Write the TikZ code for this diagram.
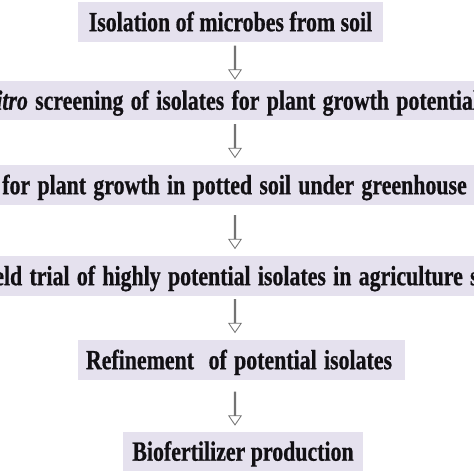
\documentclass[tikz,border=0pt]{standalone}
\usepackage{fontspec}
\setmainfont{Liberation Serif}[BoldFeatures={FakeBold=0.8}, BoldItalicFeatures={FakeBold=0.8}]
\usepackage{graphicx}
\usetikzlibrary{shapes.arrows, positioning, calc}
\definecolor{boxfill}{RGB}{229,225,238}
\definecolor{arrowgray}{RGB}{115,115,115}
\definecolor{inktext}{RGB}{18,16,20}
\newcommand{\stretchtext}[1]{\scalebox{1}[1.27]{#1}}

\begin{document}
\begin{tikzpicture}[x=0.025cm, y=-0.025cm,
    stage/.style={rectangle, fill=boxfill, inner sep=0pt, text height=0.46cm, text depth=0cm, minimum height=0.975cm, text=inktext, font=\fontsize{15.55}{19}\selectfont\bfseries},
    widestage/.style={stage, anchor=west, text width=12.5cm, align=left},
    hollowarrow/.style={single arrow, draw=arrowgray, fill=white, line width=0.6pt, minimum height=0.825cm, minimum width=0.31cm, single arrow head extend=0.09cm, single arrow tip angle=68, shape border rotate=270, inner sep=0pt, anchor=tip}
]
    \useasboundingbox (0,0) rectangle (474,474);
    \clip (0,0) rectangle (474,474);
    \coordinate (col) at (235,0);

    % stages
    \node[stage, minimum width=7.625cm] (isolation) at (230.5,22) {\stretchtext{Isolation of microbes from soil}};
    \node[widestage, inner xsep=0.2cm] (vitro) at (-12,100.5) {\stretchtext{\textit{itro} screening of isolates for plant growth potential}};
    \node[widestage, inner xsep=0.35cm] (pot) at (-12,185) {\stretchtext{for plant growth in potted soil under greenhouse c}};
    \node[widestage, inner xsep=0.15cm] (field) at (-12,276) {\stretchtext{eld trial of highly potential isolates in agriculture so}};
    \node[stage, text width=7.775cm, align=left, inner xsep=0.2cm] (refine) at (241.5,360) {\stretchtext{Refinement\ \ of potential isolates}};
    \node[stage, minimum width=6cm] (product) at (243,451.5) {\stretchtext{Biofertilizer production}};

    % arrows
    \node[hollowarrow] (arrow1) at ($(vitro.north -| col)+(0,-1)$) {};
    \node[hollowarrow] (arrow2) at ($(pot.north -| col)+(0,-7)$) {};
    \node[hollowarrow] (arrow3) at ($(field.north -| col)+(0,-7)$) {};
    \node[hollowarrow] (arrow4) at ($(refine.north -| col)+(0,-7)$) {};
    \node[hollowarrow] (arrow5) at ($(product.north -| col)+(0,-6)$) {};
\end{tikzpicture}
\end{document}
